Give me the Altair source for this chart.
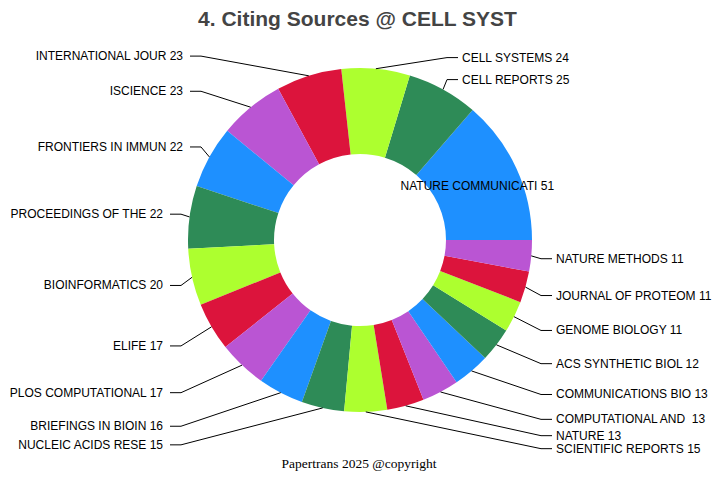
import math
import altair as alt
import pandas as pd

# ---- data ----
names = ["NATURE COMMUNICATI", "CELL REPORTS", "CELL SYSTEMS", "INTERNATIONAL JOUR", "ISCIENCE",
         "FRONTIERS IN IMMUN", "PROCEEDINGS OF THE", "BIOINFORMATICS", "ELIFE", "PLOS COMPUTATIONAL",
         "BRIEFINGS IN BIOIN", "NUCLEIC ACIDS RESE", "SCIENTIFIC REPORTS", "NATURE", "COMPUTATIONAL AND ",
         "COMMUNICATIONS BIO", "ACS SYNTHETIC BIOL", "GENOME BIOLOGY", "JOURNAL OF PROTEOM", "NATURE METHODS"]
counts = [51, 25, 24, 23, 23, 22, 22, 20, 17, 17, 16, 15, 15, 13, 13, 13, 12, 11, 11, 11]
palette = ["#1E90FF", "#2E8B57", "#ADFF2F", "#DC143C", "#BA55D3"]
title_text = "4. Citing Sources @ CELL SYST"
footer_text = "Papertrans 2025 @copyright"

# ---- layout ----
W, H = 704, 464            # plot area (page minus 8px margins)
CX, CY = 360, 240          # donut centre in page pixels
R_OUT, R_IN = 172, 86
LABEL_FONT = "Liberation Sans"

total = sum(counts)
colors = [palette[i % len(palette)] for i in range(len(names))]

# slices: matplotlib-style (start east, counter-clockwise, descending) drawn
# clockwise in Vega starting where the first slice begins
t0 = math.pi / 2 - 2 * math.pi * counts[0] / total
arc_df = pd.DataFrame({
    "name": names,
    "count": counts,
    "ord": [0 if i == 0 else len(names) - i for i in range(len(names))],
})

labels = []
cum = 0
for i, (n, v) in enumerate(zip(names, counts)):
    a = 2 * math.pi * (cum + v / 2) / total
    cum += v
    c, s = math.cos(a), math.sin(a)
    # keep repeated spaces visible in SVG text
    text = f"{n} {v}".replace("  ", " \u00a0")
    if i == 0:
        rm = (R_OUT + R_IN) / 2
        labels.append(dict(name=n, text=text, side="in", a=a,
                           tx=CX + rm * c, ty=CY - rm * s))
        continue
    side = "right" if c > 0 else "left"
    top = s > 0.3
    if side == "left":
        k = 1.12 if s > 0 else 1.22
        knee = CX - (159 if top else 179)
    else:
        k = 1.065 if s > 0 else 1.18
        knee = CX + (87 if top else 181)
    labels.append(dict(name=n, text=text, side=side, a=a, knee=knee,
                       ly=CY - k * R_OUT * s))

# push labels apart on each side
for side in ("left", "right"):
    grp = sorted([l for l in labels if l["side"] == side], key=lambda d: d["ly"])
    for j in range(1, len(grp)):
        if grp[j]["ly"] < grp[j - 1]["ly"] + 13:
            grp[j]["ly"] = grp[j - 1]["ly"] + 13

line_rows = []
text_rows = []
for l in labels:
    if l["side"] == "in":
        text_rows.append(dict(text=l["text"], x=l["tx"], y=l["ty"], side="in"))
        continue
    ex = CX + R_OUT * math.cos(l["a"])
    ey = CY - R_OUT * math.sin(l["a"])
    sign = 1 if l["side"] == "right" else -1
    pts = [(ex, ey), (l["knee"], l["ly"]), (l["knee"] + sign * 11, l["ly"])]
    for j, (px, py) in enumerate(pts):
        line_rows.append(dict(name=l["name"], seq=j, x=px, y=py))
    tx = l["knee"] + 15 if sign > 0 else l["knee"] - 18
    text_rows.append(dict(text=l["text"], x=tx, y=l["ly"], side=l["side"]))

line_df = pd.DataFrame(line_rows)
text_df = pd.DataFrame(text_rows)

xsc = alt.Scale(domain=[CX - W / 2, CX + W / 2], nice=False, zero=False)
ysc = alt.Scale(domain=[CY - H / 2, CY + H / 2], nice=False, zero=False, reverse=True)

arcs = alt.Chart(arc_df).mark_arc(outerRadius=R_OUT, innerRadius=R_IN).encode(
    theta=alt.Theta("count:Q", stack=True,
                    scale=alt.Scale(range=[t0, t0 + 2 * math.pi])),
    order=alt.Order("ord:Q", sort="ascending"),
    color=alt.Color("name:N", scale=alt.Scale(domain=names, range=colors), legend=None),
)

leaders = alt.Chart(line_df).mark_line(color="black", strokeWidth=1).encode(
    x=alt.X("x:Q", scale=xsc, axis=None),
    y=alt.Y("y:Q", scale=ysc, axis=None),
    detail="name:N",
    order="seq:Q",
)

def text_layer(side, align):
    return alt.Chart(text_df).transform_filter(alt.datum.side == side).mark_text(
        align=align, baseline="middle", font=LABEL_FONT, fontSize=12, color="black"
    ).encode(
        x=alt.X("x:Q", scale=xsc, axis=None),
        y=alt.Y("y:Q", scale=ysc, axis=None),
        text="text:N",
    )

head_df = pd.DataFrame({"t": [title_text], "x": [357.5], "y": [26]})
foot_df = pd.DataFrame({"t": [footer_text], "x": [359], "y": [468]})

title = alt.Chart(head_df).mark_text(
    align="center", baseline="alphabetic", font=LABEL_FONT, fontSize=21,
    fontWeight="bold", color="#444444"
).encode(x=alt.X("x:Q", scale=xsc, axis=None), y=alt.Y("y:Q", scale=ysc, axis=None), text="t:N")

footer = alt.Chart(foot_df).mark_text(
    align="center", baseline="alphabetic", font="Liberation Serif", fontSize=13.5, color="black"
).encode(x=alt.X("x:Q", scale=xsc, axis=None), y=alt.Y("y:Q", scale=ysc, axis=None), text="t:N")

chart = alt.layer(
    arcs, leaders, text_layer("left", "right"), text_layer("right", "left"),
    text_layer("in", "center"), title, footer
).properties(
    width=W, height=H, padding=0, autosize="none"
).configure_view(strokeWidth=0)

chart.save("out.html", embed_options={"renderer": "svg", "actions": False})
